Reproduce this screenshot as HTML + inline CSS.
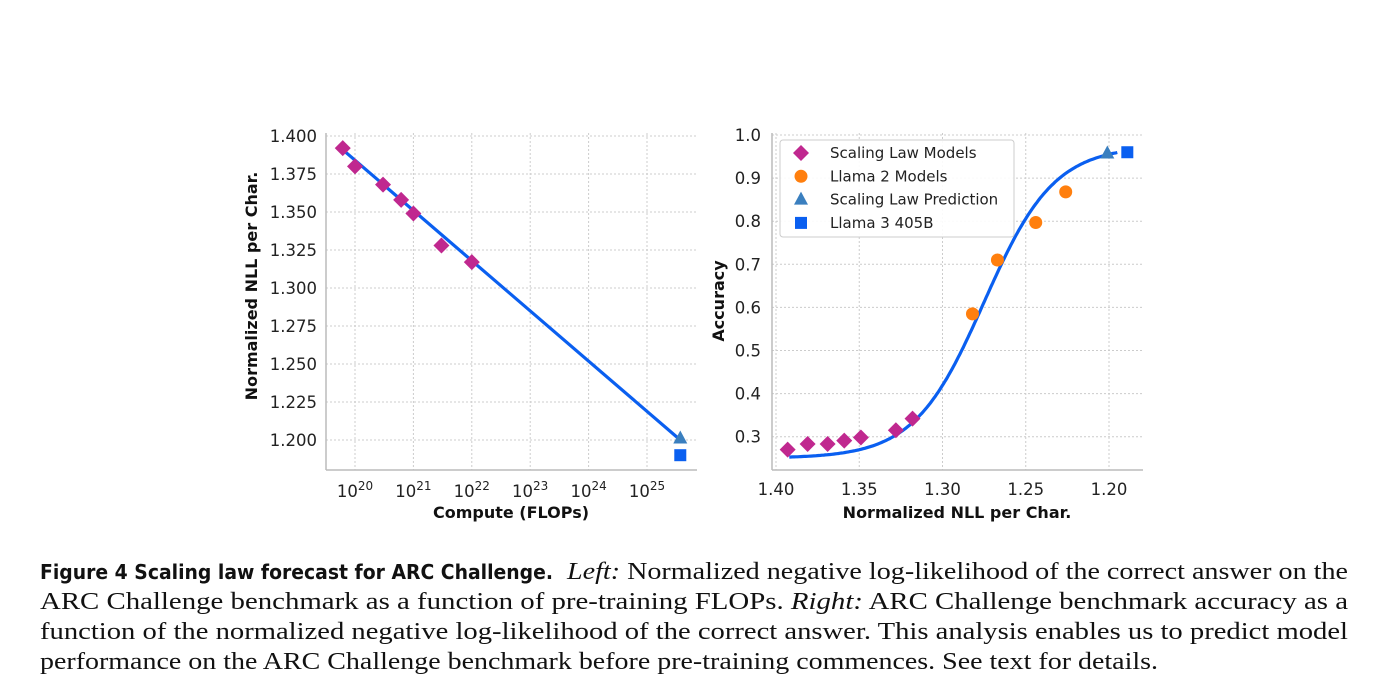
<!DOCTYPE html>
<html><head><meta charset="utf-8">
<style>
html,body{margin:0;padding:0;background:#fff;}
svg{display:block;}
.tick{font-family:"DejaVu Sans","Liberation Sans",sans-serif;font-size:16.5px;fill:#222;}
.lab{font-family:"DejaVu Sans","Liberation Sans",sans-serif;font-size:16px;font-weight:bold;fill:#111;}
.leg{font-family:"DejaVu Sans","Liberation Sans",sans-serif;font-size:15px;fill:#222;}
.cap{font-family:"Liberation Serif",serif;font-size:24px;fill:#111;}
.capb{font-family:"DejaVu Sans","Liberation Sans",sans-serif;font-size:20px;font-weight:bold;fill:#111;}
</style></head>
<body>
<svg id="fig" width="1400" height="700" viewBox="0 0 1400 700" xmlns="http://www.w3.org/2000/svg">
<g id="left"></g>
<g id="right"></g>
<g>
<text class="capb" x="40" y="579" textLength="513" lengthAdjust="spacingAndGlyphs">Figure 4  Scaling law forecast for ARC Challenge.</text>
<text class="cap" x="567" y="579" textLength="781" lengthAdjust="spacingAndGlyphs"><tspan font-style="italic">Left:</tspan> Normalized negative log-likelihood of the correct answer on the</text>
<text class="cap" x="40" y="609" textLength="1308" lengthAdjust="spacingAndGlyphs">ARC Challenge benchmark as a function of pre-training FLOPs. <tspan font-style="italic">Right:</tspan> ARC Challenge benchmark accuracy as a</text>
<text class="cap" x="40" y="639" textLength="1308" lengthAdjust="spacingAndGlyphs">function of the normalized negative log-likelihood of the correct answer. This analysis enables us to predict model</text>
<text class="cap" x="40" y="669" textLength="1118" lengthAdjust="spacingAndGlyphs">performance on the ARC Challenge benchmark before pre-training commences. See text for details.</text>
</g>
</svg>
<script>
// ---- Left chart data ----
const leftLogFlops = [19.79, 20.0, 20.48, 20.79, 21.0, 21.48, 22.0];
const leftNll = [1.392, 1.380, 1.368, 1.358, 1.349, 1.328, 1.317];
const leftFitX = [19.79, 25.57];
const leftFitY = [1.391, 1.200];
const leftPredX = [25.57];
const leftPredY = [1.201];
const leftLlama3X = [25.57];
const leftLlama3Y = [1.190];
const leftYTicks = [1.400, 1.375, 1.350, 1.325, 1.300, 1.275, 1.250, 1.225, 1.200];
const leftXTicks = [20, 21, 22, 23, 24, 25];

// ---- Right chart data ----
const rightScalingX = [1.393, 1.381, 1.369, 1.359, 1.349, 1.328, 1.318];
const rightScalingY = [0.270, 0.283, 0.283, 0.291, 0.298, 0.315, 0.342];
const rightLlama2X = [1.282, 1.267, 1.244, 1.226];
const rightLlama2Y = [0.585, 0.710, 0.797, 0.868];
const rightPredX = [1.201];
const rightPredY = [0.957];
const rightLlama3X = [1.189];
const rightLlama3Y = [0.960];
const sigmoidParams = [0.25, 0.975, 1.275, 0.021]; // floor, ceiling, midpoint, scale
const rightYTicks = [0.3, 0.4, 0.5, 0.6, 0.7, 0.8, 0.9, 1.0];
const rightXTicks = [1.40, 1.35, 1.30, 1.25, 1.20];

const NS = "http://www.w3.org/2000/svg";
function mk(parent, tag, attrs){const e=document.createElementNS(NS,tag);for(const k in attrs)e.setAttribute(k,attrs[k]);parent.appendChild(e);return e;}
const MAG="#c0288f", ORG="#ff7f0e", TRI="#3a7fbf", SQ="#0a5ff0", LINE="#0a5ff0";
function diamond(g,x,y,name){const s=8;const p=mk(g,'polygon',{points:`${x},${y-s} ${x+s},${y} ${x},${y+s} ${x-s},${y}`,fill:MAG});

}
function tri(g,x,y,name){const p=mk(g,'polygon',{points:`${x},${y-8} ${x+7},${y+5} ${x-7},${y+5}`,fill:TRI});

}
function sq(g,x,y,name){const p=mk(g,'rect',{x:x-6,y:y-6,width:12,height:12,fill:SQ});

}
function circ(g,x,y,name){const p=mk(g,'circle',{cx:x,cy:y,r:6.5,fill:ORG});

}
function frame(g,L,R,T,B){
  mk(g,'line',{x1:L,y1:T,x2:L,y2:B,stroke:'#bbb','stroke-width':1.5});
  mk(g,'line',{x1:L,y1:B,x2:R,y2:B,stroke:'#bbb','stroke-width':1.5});
}

// ---- Left ----
(function(){
  const g=document.getElementById('left');
  const L=326,R=697,T=133,B=470;
  const xs=v=>355+(v-20)*58.4;
  const ys=v=>136+(1.400-v)*1520;
  leftYTicks.forEach(t=>{
    mk(g,'line',{x1:L,x2:R,y1:ys(t),y2:ys(t),stroke:'#ccc','stroke-dasharray':'2,2','stroke-width':1});
    const tx=mk(g,'text',{x:L-9,y:ys(t)+6,'text-anchor':'end',class:'tick'});tx.textContent=t.toFixed(3);
    
    
  });
  leftXTicks.forEach(t=>{
    mk(g,'line',{x1:xs(t),x2:xs(t),y1:T,y2:B,stroke:'#ccc','stroke-dasharray':'2,2','stroke-width':1});
    const tx=mk(g,'text',{x:xs(t),y:497,'text-anchor':'middle',class:'tick'});
    tx.innerHTML='10<tspan dy="-7" font-size="12">'+t+'</tspan>';
    
    
  });
  frame(g,L,R,T,B);
  const ln=mk(g,'line',{x1:xs(leftFitX[0]),y1:ys(leftFitY[0]),x2:xs(leftFitX[1]),y2:ys(leftFitY[1]),stroke:LINE,'stroke-width':3.2});
  
  
  leftLogFlops.forEach((v,i)=>diamond(g,xs(v),ys(leftNll[i]),'scaling-law-point'));
  tri(g,xs(leftPredX[0]),ys(leftPredY[0]),'prediction-point');
  sq(g,xs(leftLlama3X[0]),ys(leftLlama3Y[0]),'llama3-point');
  const xl=mk(g,'text',{x:511,y:518,'text-anchor':'middle',class:'lab'});xl.textContent='Compute (FLOPs)';
  
  
  const yl=mk(g,'text',{x:0,y:0,'text-anchor':'middle',class:'lab',transform:'translate(257,286) rotate(-90)'});yl.textContent='Normalized NLL per Char.';
  
  
})();

// ---- Right ----
(function(){
  const g=document.getElementById('right');
  const L=772,R=1143,T=133,B=470;
  const xs=v=>776+(1.40-v)*1665;
  const ys=v=>135+(1.0-v)*431;
  rightYTicks.forEach(t=>{
    mk(g,'line',{x1:L,x2:R,y1:ys(t),y2:ys(t),stroke:'#ccc','stroke-dasharray':'2,2','stroke-width':1});
    const tx=mk(g,'text',{x:L-11,y:ys(t)+6,'text-anchor':'end',class:'tick'});tx.textContent=t.toFixed(1);
    
    
  });
  rightXTicks.forEach(t=>{
    mk(g,'line',{x1:xs(t),x2:xs(t),y1:T,y2:B,stroke:'#ccc','stroke-dasharray':'2,2','stroke-width':1});
    const tx=mk(g,'text',{x:xs(t),y:495,'text-anchor':'middle',class:'tick'});tx.textContent=t.toFixed(2);
    
    
  });
  frame(g,L,R,T,B);
  const [a,b,x0,s]=sigmoidParams;
  let d='';
  for(let i=0;i<=200;i++){const x=1.392-(1.392-1.195)*i/200;const y=a+(b-a)/(1+Math.exp(-(x0-x)/s));d+=(i?'L':'M')+xs(x).toFixed(1)+','+ys(y).toFixed(1);}
  const p=mk(g,'path',{d:d,fill:'none',stroke:LINE,'stroke-width':3.2});
  
  
  rightScalingX.forEach((v,i)=>diamond(g,xs(v),ys(rightScalingY[i]),'scaling-law-point'));
  rightLlama2X.forEach((v,i)=>circ(g,xs(v),ys(rightLlama2Y[i]),'llama2-point'));
  tri(g,xs(rightPredX[0]),ys(rightPredY[0]),'prediction-point');
  sq(g,xs(rightLlama3X[0]),ys(rightLlama3Y[0]),'llama3-point');
  // legend
  const lg=mk(g,'g',{});
  
  
  mk(lg,'rect',{x:780,y:140,width:234,height:97,rx:3,fill:'#fff','fill-opacity':0.9,stroke:'#ccc'});
  const names=['Scaling Law Models','Llama 2 Models','Scaling Law Prediction','Llama 3 405B'];
  const fns=[diamond,circ,tri,sq];
  names.forEach((n,i)=>{
    const y=153+i*23.3;
    fns[i](lg,801,y,'legend-marker');
    const t=mk(lg,'text',{x:830,y:y+5,class:'leg'});t.textContent=n;
    
    
  });
  const xl=mk(g,'text',{x:957,y:518,'text-anchor':'middle',class:'lab'});xl.textContent='Normalized NLL per Char.';
  
  
  const yl=mk(g,'text',{x:0,y:0,'text-anchor':'middle',class:'lab',transform:'translate(724,301) rotate(-90)'});yl.textContent='Accuracy';
  
  
})();
</script>
</body></html>
